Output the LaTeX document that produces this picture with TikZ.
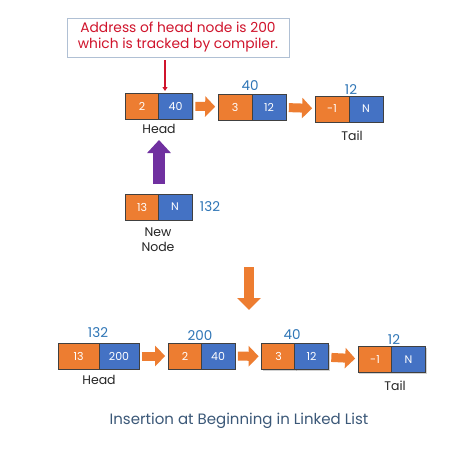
\documentclass[tikz,border=0pt]{standalone}
\usepackage{fontspec}
\setmainfont{Poppins}
\usetikzlibrary{arrows.meta,shadows}
\definecolor{corange}{HTML}{ED7D31}
\definecolor{cblue}{HTML}{4472C4}
\definecolor{cpurple}{HTML}{7030A0}
\definecolor{cred}{HTML}{D0142C}
\definecolor{clabel}{HTML}{2E75B6}
\definecolor{ccap}{HTML}{3B5878}
\definecolor{cboxb}{HTML}{B0C0D4}
\tikzset{
  cell/.style={draw=black!75, line width=0.7pt, minimum width=34pt, minimum height=26pt,
    inner sep=0pt, text=white, font=\fontsize{11}{12}\selectfont,
    drop shadow={shadow xshift=1pt, shadow yshift=-1pt, opacity=0.35}},
  ocell/.style={cell, fill=corange},
  bcell/.style={cell, fill=cblue},
  addr/.style={text=clabel, font=\fontsize{13.5}{14}\selectfont, inner sep=0pt},
  lbl/.style={text=black!85, font=\fontsize{12.5}{15}\selectfont, inner sep=0pt, align=center},
  link/.style={draw=corange, line width=9pt, -{Triangle[width=20pt,length=10pt]}, shorten <=2.5pt, shorten >=2.5pt},
}
\begin{document}
\begin{tikzpicture}[x=1pt,y=-1pt]
\useasboundingbox[fill=white] (0,0) rectangle (474,455);
% top note
\node[draw=cboxb, line width=0.8pt, minimum width=222pt, minimum height=39pt, inner sep=0pt,
  text=cred, align=center, font=\fontsize{13.8}{16}\selectfont] (note) at (178,37.5)
  {Address of head node is 200\\which is tracked by compiler.};
% top row
\node[ocell] (a1) at (142,106) {2};
\node[bcell] (a2) at (175.5,106) {40};
\node[ocell] (b1) at (235,107) {3};
\node[bcell] (b2) at (269,107) {12};
\node[ocell] (c1) at (332,109) {-1};
\node[bcell] (c2) at (366,109) {N};
\node[lbl] (ahead) at (159,129) {Head};
\node[addr] (baddr) at (250,86) {40};
\node[addr] (caddr) at (351,90) {12};
\node[lbl] (ctail) at (352,136) {Tail};
\draw[link] (a2) -- (b1);
\draw[link] (b2) -- (c1);
% red pointer
\coordinate (ra) at (165,60);
\coordinate (rb) at (165,91);
\draw[cred, line width=1.5pt, -{Triangle[width=5pt,length=4pt]}] (ra) -- (rb);
% new node
\node[ocell] (n1) at (142,207) {13};
\node[bcell] (n2) at (175,207) {N};
\node[addr] (naddr) at (210,207) {132};
\node[lbl] (nlbl) at (158,240) {New\\Node};
\coordinate (pa) at (159,184);
\coordinate (pb) at (159,140);
\draw[cpurple, line width=12pt, -{Triangle[width=23pt,length=13pt]}] (pa) -- (pb);
% down arrow
\coordinate (da) at (249,267);
\coordinate (db) at (249,310);
\draw[corange, line width=10pt, -{Triangle[width=23pt,length=12pt]}] (da) -- (db);
% bottom row
\node[ocell, minimum width=41pt] (d1) at (78.5,356) {13};
\node[bcell, minimum width=40pt] (d2) at (119,356) {200};
\node[ocell] (e1) at (185,356) {2};
\node[bcell] (e2) at (218,356) {40};
\node[ocell] (f1) at (278.5,356.5) {3};
\node[bcell] (f2) at (311.5,356.5) {12};
\node[ocell] (g1) at (375,359.5) {-1};
\node[bcell] (g2) at (408.5,359.5) {N};
\node[addr] (daddr) at (98,333) {132};
\node[addr] (eaddr) at (200,336) {200};
\node[addr] (faddr) at (292,335) {40};
\node[addr] (gaddr) at (394,340) {12};
\node[lbl] (dhead) at (99,380) {Head};
\node[lbl] (gtail) at (395,386) {Tail};
\draw[link] (d2) -- (e1);
\draw[link] (e2) -- (f1);
\draw[link] (f2) -- (g1);
% caption
\node[text=ccap, font=\fontsize{15}{17}\selectfont, inner sep=0pt] (cap) at (239,421)
  {Insertion at Beginning in Linked List};
\end{tikzpicture}
\end{document}
